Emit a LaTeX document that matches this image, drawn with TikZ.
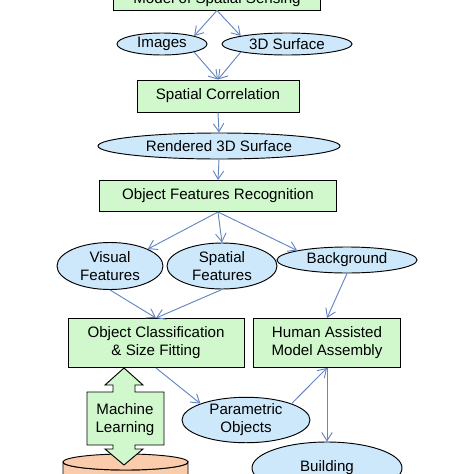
\documentclass[tikz,border=0pt]{standalone}
\usepackage{fontspec}
\setmainfont{Liberation Sans}
\usetikzlibrary{arrows.meta,shapes.geometric}
\definecolor{boxGreen}{RGB}{208,248,204}
\definecolor{ellBlue}{RGB}{204,232,250}
\definecolor{dbSalmon}{RGB}{250,204,172}
\definecolor{arrBlue}{RGB}{100,134,194}

\begin{document}
\begin{tikzpicture}[x=0.03cm, y=0.03cm,
  font=\fontsize{12.9}{15.4}\selectfont,
  box/.style={draw, rectangle, fill=boxGreen, line width=0.8pt, align=center, inner sep=0pt},
  ell/.style={draw, ellipse, fill=ellBlue, line width=0.8pt, align=center, inner sep=0pt},
  arr/.style={-{Straight Barb[length=7pt,width=9pt]}, arrBlue, line width=0.8pt}
]
\useasboundingbox (0,0) rectangle (474,-474);
\clip (0,0) rectangle (474,-474);

\node[box, minimum width=6.21cm, minimum height=0.6cm]  (model) at (217,0)    {Model of Spatial Sensing};
\node[ell, minimum width=2.7cm,  minimum height=0.66cm] (img)   at (162,-44)  {Images};
\node[ell, minimum width=3.9cm,  minimum height=0.66cm] (surf)  at (287,-44)  {3D Surface};
\node[box, minimum width=4.86cm, minimum height=0.96cm] (corr)  at (218,-96)  {Spatial Correlation};
\node[ell, minimum width=7.26cm, minimum height=0.78cm] (rend)  at (219,-146) {Rendered 3D Surface};
\node[box, minimum width=7.11cm, minimum height=0.93cm] (ofr)   at (218,-196) {Object Features Recognition};
\node[ell, minimum width=3.18cm, minimum height=1.41cm] (vis)   at (110,-266) {Visual\\Features};
\node[ell, minimum width=3.3cm,  minimum height=1.38cm] (spa)   at (222,-266) {Spatial\\Features};
\node[ell, minimum width=4.2cm,  minimum height=0.78cm] (bg)    at (347,-260) {Background};
\node[box, minimum width=5.28cm, minimum height=1.47cm] (cls)   at (156,-343) {Object Classification\\\& Size Fitting};
\node[box, minimum width=4.41cm, minimum height=1.47cm] (human) at (327,-343) {Human Assisted\\Model Assembly};
\node[ell, minimum width=3.84cm, minimum height=1.35cm] (par)   at (246,-420) {Parametric\\Objects};
\node[ell, minimum width=4.5cm,  minimum height=1.56cm] (bldg)  at (327,-468) {Building};

% database
\filldraw[fill=dbSalmon, line width=0.8pt] (63,-462) -- (63,-490) -- (188,-490) -- (188,-462)
  arc[start angle=0, end angle=-180, x radius=62.5, y radius=8];
\filldraw[fill=dbSalmon, line width=0.8pt] (125.5,-462) ellipse[x radius=62.5, y radius=8];

% machine learning double arrow
\filldraw[fill=boxGreen, line width=0.8pt] (124,-368) -- (143,-385) -- (135,-385) -- (135,-392)
  -- (164,-392) -- (164,-445) -- (135,-445) -- (135,-449) -- (143,-449) -- (124,-465)
  -- (105,-449) -- (113,-449) -- (113,-445) -- (87,-445) -- (87,-392) -- (113,-392)
  -- (113,-385) -- (105,-385) -- cycle;
\node[align=center] (ml) at (125,-420) {Machine\\Learning};

\draw[arr] (model.south)     -- (img.north east);
\draw[arr] (model.south)     -- (surf.north west);
\draw[arr] (img.south east)  -- (corr.north);
\draw[arr] (surf.south west) -- (corr.north);
\draw[arr] (corr.south)      -- (rend.north);
\draw[arr] (rend.south)      -- (ofr.north);
\draw[arr] (ofr.south)       -- (vis.north east);
\draw[arr] (ofr.south)       -- (spa.north);
\draw[arr] (ofr.south)       -- (bg.north west);
\draw[arr] (vis.south)       -- (cls.north);
\draw[arr] (spa.south)       -- (cls.north);
\draw[arr] (bg.south)        -- (human.north);
\draw[arr] (cls.south)       -- (par.north west);
\draw[arr] (par.north east)  -- (human.south);
\draw[arr] (human.south)     -- (bldg.north);
\end{tikzpicture}
\end{document}
